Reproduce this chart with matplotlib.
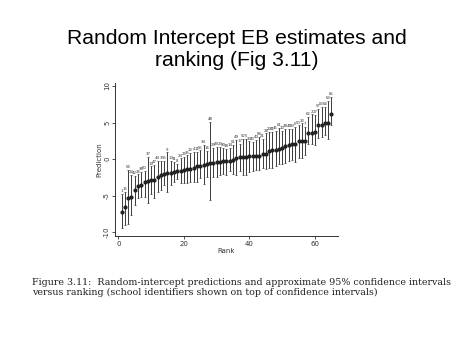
import matplotlib.pyplot as plt

# values (rank -> prediction, 95% CI)
rank = list(range(1, 66))
pred = [-7.2, -6.6, -5.3, -5.2, -4.3, -3.7, -3.5, -3.2, -3.0, -2.9,
        -2.9, -2.4, -2.2, -2.0, -1.9, -1.9, -1.8, -1.7, -1.6, -1.5,
        -1.4, -1.3, -1.2, -1.0, -0.9, -0.8, -0.7, -0.6, -0.5, -0.45,
        -0.4, -0.3, -0.3, -0.3, -0.1, 0.1, 0.3, 0.3, 0.3, 0.35,
        0.4, 0.45, 0.45, 0.7, 0.75, 1.1, 1.2, 1.2, 1.4, 1.55,
        1.8, 1.9, 2.0, 2.05, 2.5, 2.5, 2.5, 3.5, 3.6, 3.7,
        4.6, 4.7, 4.9, 5.0, 6.2]
upper = [-4.8, -4.5, -1.5, -2.2, -2.3, -2.1, -1.8, -1.6, 0.3, -1.0,
         -0.8, -0.3, -0.3, -0.3, 0.9, -0.3, -0.4, -0.7, 0.1, 0.3,
         0.5, 0.8, 1.0, 1.0, 1.2, 1.9, 1.1, 5.1, 1.5, 1.7,
         1.7, 1.5, 1.4, 1.5, 1.9, 2.6, 2.1, 2.8, 2.8, 2.4,
         2.3, 2.6, 3.0, 2.8, 3.5, 3.7, 3.7, 3.9, 4.3, 3.9,
         4.1, 4.1, 4.1, 4.4, 4.6, 4.9, 4.4, 5.8, 6.1, 6.0,
         6.9, 7.1, 7.1, 8.0, 8.5]
lower = [-9.5, -9.1, -8.9, -7.6, -6.3, -5.3, -5.2, -5.2, -6.0, -4.8,
         -5.3, -4.5, -4.3, -3.6, -4.5, -3.6, -3.1, -2.7, -3.3, -3.3,
         -3.3, -3.1, -3.2, -3.2, -2.6, -3.4, -2.4, -5.6, -2.4, -2.4,
         -2.2, -2.1, -2.2, -1.7, -2.1, -2.2, -1.7, -2.2, -2.2, -1.8,
         -1.7, -1.5, -1.5, -1.2, -1.3, -1.2, -1.2, -1.0, -0.7, -0.7,
         -0.5, -0.3, -0.1, -0.4, 0.2, 0.1, 0.5, 2.1, 2.0, 1.9,
         2.9, 3.0, 3.3, 2.7, 4.6]
school = [1, 15, 54, 22, 42, 26, 36, 60, 37, 19,
          47, 44, 3, 56, 9, 13, 31, 8, 24, 25,
          35, 12, 4, 11, 55, 34, 16, 48, 29, 39,
          23, 30, 18, 14, 51, 49, 17, 52, 5, 33,
          43, 40, 58, 21, 28, 20, 41, 45, 61, 10,
          38, 46, 59, 6, 50, 32, 7, 62, 2, 27,
          57, 53, 64, 63, 65]

fig = plt.figure(figsize=(4.74, 3.55), dpi=100)
fig.text(0.5, 0.86, "Random Intercept EB estimates and\nranking (Fig 3.11)",
         ha="center", va="center", fontsize=15.2, family="Liberation Sans",
         linespacing=1.2)

ax = fig.add_axes([0.2426, 0.335, 0.4704, 0.431])
err = [[p - l for p, l in zip(pred, lower)], [u - p for p, u in zip(pred, upper)]]
ax.errorbar(rank, pred, yerr=err, fmt="o", color="#222222", ecolor="#3a3a3a",
            elinewidth=0.7, capsize=1.0, capthick=0.5, markersize=2.0)
for r, u, s in zip(rank, upper, school):
    ax.text(r, u + 0.1, str(s), ha="center", va="bottom", fontsize=2.8, color="#333333")

ax.set_xlim(-1, 67)
ax.set_ylim(-10.55, 10.4)
ax.set_xticks([0, 20, 40, 60])
ax.set_yticks([-10, -5, 0, 5, 10])
ax.set_yticklabels(["-10", "-5", "0", "5", "10"], rotation=90, va="center")
ax.tick_params(labelsize=5, length=2, width=0.6, pad=1.5, colors="#333333")
for s in ["top", "right"]:
    ax.spines[s].set_visible(False)
for s in ["left", "bottom"]:
    ax.spines[s].set_linewidth(0.7)
    ax.spines[s].set_color("#333333")
ax.set_xlabel("Rank", fontsize=5, labelpad=1, color="#333333")
ax.set_ylabel("Prediction", fontsize=5, labelpad=1, color="#333333")

fig.text(0.068, 0.19, "Figure 3.11:  Random-intercept predictions and approximate 95% confidence intervals\n"
         "versus ranking (school identifiers shown on top of confidence intervals)",
         ha="left", va="center", fontsize=6.8, family="DejaVu Serif", linespacing=1.2,
         color="#222222")

fig.savefig("out.png", dpi=100)
